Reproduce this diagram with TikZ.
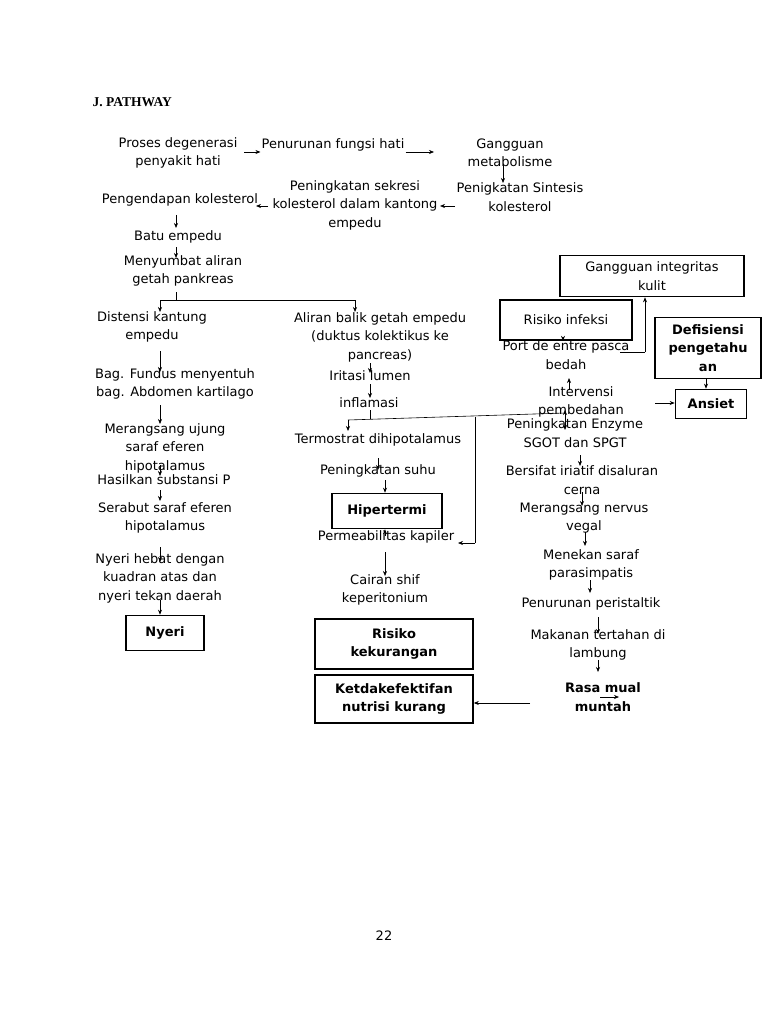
\documentclass[tikz,border=0pt]{standalone}
\usepackage{fontspec}
\setmainfont{DejaVu Sans}
\newfontfamily\serifb{Liberation Serif}
\usetikzlibrary{arrows.meta}
\begin{document}
\begin{tikzpicture}[x=1pt,y=-1pt,
 txt/.style={align=center,inner sep=1pt,font=\fontsize{13}{18.5}\selectfont},
 bx/.style={txt,draw,line width=1.6pt,font=\fontsize{13}{18.5}\selectfont\bfseries},
 ar/.style={-{Stealth[length=5pt,width=4pt]},line width=0.6pt},
 ln/.style={line width=0.6pt}]
\useasboundingbox (0,0) rectangle (768,1024);
\node[anchor=west,font=\serifb\bfseries\fontsize{13.5}{16}\selectfont] (title) at (89,102) {J. PATHWAY};
\node[txt] (a1) at (178,153) {Proses degenerasi\\penyakit hati};
\node[txt] (a2) at (333,145) {Penurunan fungsi hati};
\node[txt] (a3) at (510,153) {Gangguan\\metabolisme};
\node[txt] (a4) at (520,197) {Penigkatan Sintesis\\kolesterol};
\node[txt] (a5) at (355,205) {Peningkatan sekresi\\kolesterol dalam kantong\\empedu};
\node[txt] (a6) at (180,200) {Pengendapan kolesterol};
\node[txt] (a7) at (178,237) {Batu empedu};
\node[txt] (a8) at (183,271) {Menyumbat aliran\\getah pankreas};
\node[txt] (l1) at (152,327) {Distensi kantung\\empedu};
\node[txt] (l2) at (175,384) {Bag. Fundus menyentuh\\bag. Abdomen kartilago};
\node[txt] (l3) at (165,448) {Merangsang ujung\\saraf eferen\\hipotalamus};
\node[txt] (l4) at (164,480) {Hasilkan substansi P};
\node[txt] (l5) at (165,518) {Serabut saraf eferen\\hipotalamus};
\node[txt] (l6) at (160,578) {Nyeri hebat dengan\\kuadran atas dan\\nyeri tekan daerah};
\node[bx,minimum width=78pt,minimum height=35pt] (nyeri) at (165,633) {Nyeri};
\node[txt] (m1) at (380,337) {Aliran balik getah empedu\\(duktus kolektikus ke\\pancreas)};
\node[txt] (m2) at (370,376) {Iritasi lumen};
\node[txt] (m3) at (369,403) {inflamasi};
\node[txt] (m4) at (378,440) {Termostrat dihipotalamus};
\node[txt] (m5) at (378,471) {Peningkatan suhu};
\node[bx,minimum width=110pt,minimum height=35pt] (hip) at (387,511) {Hipertermi};
\node[txt] (m6) at (386,537) {Permeabilitas kapiler};
\node[txt] (m7) at (385,590) {Cairan shif\\keperitonium};
\node[bx,minimum width=158pt,minimum height=50pt] (rk) at (394,644) {Risiko\\kekurangan};
\node[bx,minimum width=158pt,minimum height=48pt] (kn) at (394,699) {Ketdakefektifan\\nutrisi kurang};
\node[bx,font=\fontsize{13}{18.5}\selectfont,minimum width=184pt,minimum height=41pt] (gi) at (652,276) {Gangguan integritas\\kulit};
\node[bx,font=\fontsize{13}{18.5}\selectfont,minimum width=132pt,minimum height=40pt] (ri) at (566,320) {Risiko infeksi};
\node[bx,minimum width=106pt,minimum height=61pt] (df) at (708,348) {Defisiensi\\pengetahu\\an};
\node[bx,minimum width=71pt,minimum height=29pt] (an) at (711,404) {Ansiet};
\node[txt] (r1) at (566,355) {Port de entre pasca\\bedah};
\node[txt] (r2) at (581,402) {Intervensi\\pembedahan};
\node[txt] (r3) at (575,433) {Peningkatan Enzyme\\SGOT dan SPGT};
\node[txt] (r4) at (582,480) {Bersifat iriatif disaluran\\cerna};
\node[txt] (r5) at (584,518) {Merangsang nervus\\vegal};
\node[txt] (r6) at (591,565) {Menekan saraf\\parasimpatis};
\node[txt] (r7) at (591,604) {Penurunan peristaltik};
\node[txt] (r8) at (598,645) {Makanan tertahan di\\lambung};
\node[txt,font=\fontsize{13}{18.5}\selectfont\bfseries] (r9) at (603,697) {Rasa mual\\muntah};
\node[txt] (pg) at (384,936) {22};
% top arrows
\draw[ar] (244,152) -- (a2.west |- 0,152);
\draw[ar] (a2.east |- 0,152) -- (434,152);
\draw[ar] (503,165) -- (503,183);
\draw[ar] (455,206) -- (440,206);
\draw[ar] (268,206) -- (256,206);
\draw[ar] (176,215) -- (176,228);
\draw[ar] (176,247) -- (176,258);
\draw[ln] (176,292) -- (176,300);
\draw[ln] (160,300) -- (355,300);
\draw[ar] (160,300) -- (160,312);
\draw[ar] (355,300) -- (355,312);
% left column
\draw[ar] (160,351) -- (160,372);
\draw[ar] (160,405) -- (160,424);
\draw[ar] (160,465) -- (160,476);
\draw[ar] (160,490) -- (160,501);
\draw[ar] (160,547) -- (160,562);
\draw[ar] (160,600) -- (nyeri.north -| 160,0);
% middle column
\draw[ar] (370,363) -- (370,373);
\draw[ar] (370,384) -- (370,398);
\draw[ln] (370,410) -- (370,419);
\coordinate (jl) at (348,420);
\coordinate (jr) at (565,413);
\draw[ln] (jl) -- (jr);
\draw[ar] (jl) -- (348,431);
\draw[ln] (475,416.5) -- (475,543);
\draw[ar] (475,543) -- (458,543);
\draw[ar] (378,458) -- (378,470);
\draw[ar] (385,480) -- (hip.north -| 385,0);
\draw[ar] (385,536) -- (hip.south -| 385,0);
\draw[ar] (385,552) -- (385,576);
% right column
\draw[ar] (565,426) -- (565,410);
\draw[ar] (565,413) -- (565,430);
\draw[ar] (569,390) -- (569,378);
\draw[ar] (563,338) -- (ri.south -| 563,0);
\draw[ln] (620,352) -- (645,352);
\draw[ar] (645,352) -- (gi.south -| 645,0);
\draw[ar] (df.south -| 706,0) -- (an.north -| 706,0);
\draw[ar] (655,403) -- (an.west |- 0,403);
\draw[ar] (580,455) -- (580,466);
\draw[ar] (582,492) -- (582,506);
\draw[ar] (585,532) -- (585,546);
\draw[ar] (590,580) -- (590,593);
\draw[ar] (598,617) -- (598,634);
\draw[ar] (598,660) -- (598,672);
\draw[ar] (600,697) -- (619,697);
\draw[ar] (530,703) -- (kn.east |- 0,703);
\end{tikzpicture}
\end{document}
